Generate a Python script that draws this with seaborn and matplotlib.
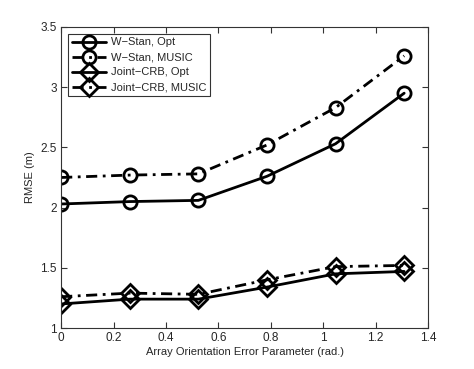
import numpy as np
import pandas as pd
import seaborn as sns
import matplotlib.pyplot as plt

# array orientation error parameter (rad.) - multiples of 15 deg
err = [0.0, 0.2618, 0.5236, 0.7854, 1.0472, 1.3090]

wstan_opt = [2.03, 2.05, 2.06, 2.26, 2.53, 2.95]
wstan_music = [2.25, 2.27, 2.28, 2.52, 2.83, 3.26]
crb_opt = [1.20, 1.24, 1.24, 1.34, 1.45, 1.47]
crb_music = [1.26, 1.29, 1.28, 1.40, 1.51, 1.52]

labels = ['W\u2212Stan, Opt', 'W\u2212Stan, MUSIC', 'Joint\u2212CRB, Opt', 'Joint\u2212CRB, MUSIC']
series = [wstan_opt, wstan_music, crb_opt, crb_music]
markers = ['o', 'o', 'D', 'D']
dashes = ['-', (0, (4, 2, 1, 2)), '-', (0, (4, 2, 1, 2))]

sns.set_style('white')
plt.rcParams['font.family'] = ['Liberation Sans', 'DejaVu Sans']

fig = plt.figure(figsize=(4.74, 3.69), dpi=100)
ax = fig.add_axes([0.129, 0.111, 0.774, 0.816])

for lab, ys, mk, ls in zip(labels, series, markers, dashes):
    df = pd.DataFrame({'x': err, 'y': ys})
    sns.lineplot(data=df, x='x', y='y', ax=ax, color='black', linestyle=ls,
                 linewidth=2, marker=mk, markersize=9.5 if mk == 'o' else 9,
                 markerfacecolor='none', markeredgecolor='black',
                 markeredgewidth=2, label=lab)

ax.set_xlim(0, 1.4)
ax.set_ylim(1, 3.5)
ax.set_xticks(np.arange(0, 1.41, 0.2))
ax.set_xticklabels(['0', '0.2', '0.4', '0.6', '0.8', '1', '1.2', '1.4'])
ax.set_yticks([1, 1.5, 2, 2.5, 3, 3.5])
ax.set_yticklabels(['1', '1.5', '2', '2.5', '3', '3.5'])
ax.tick_params(direction='in', length=4, width=0.8, labelsize=8.5, pad=3,
               top=True, right=True, bottom=True, left=True, color='#333333')
for s in ax.spines.values():
    s.set_color('#333333')
    s.set_linewidth(0.8)

ax.set_xlabel('Array Orientation Error Parameter (rad.)', fontsize=8, labelpad=2)
ax.set_ylabel('RMSE (m)', fontsize=8, labelpad=4)

leg = ax.legend(loc='upper left', fontsize=8, frameon=True, fancybox=False,
                edgecolor='black', handlelength=3.1, borderaxespad=0.6,
                labelspacing=0.45, borderpad=0.35, handletextpad=0.4)
leg.get_frame().set_linewidth(0.8)

fig.savefig('out.png', dpi=100)
